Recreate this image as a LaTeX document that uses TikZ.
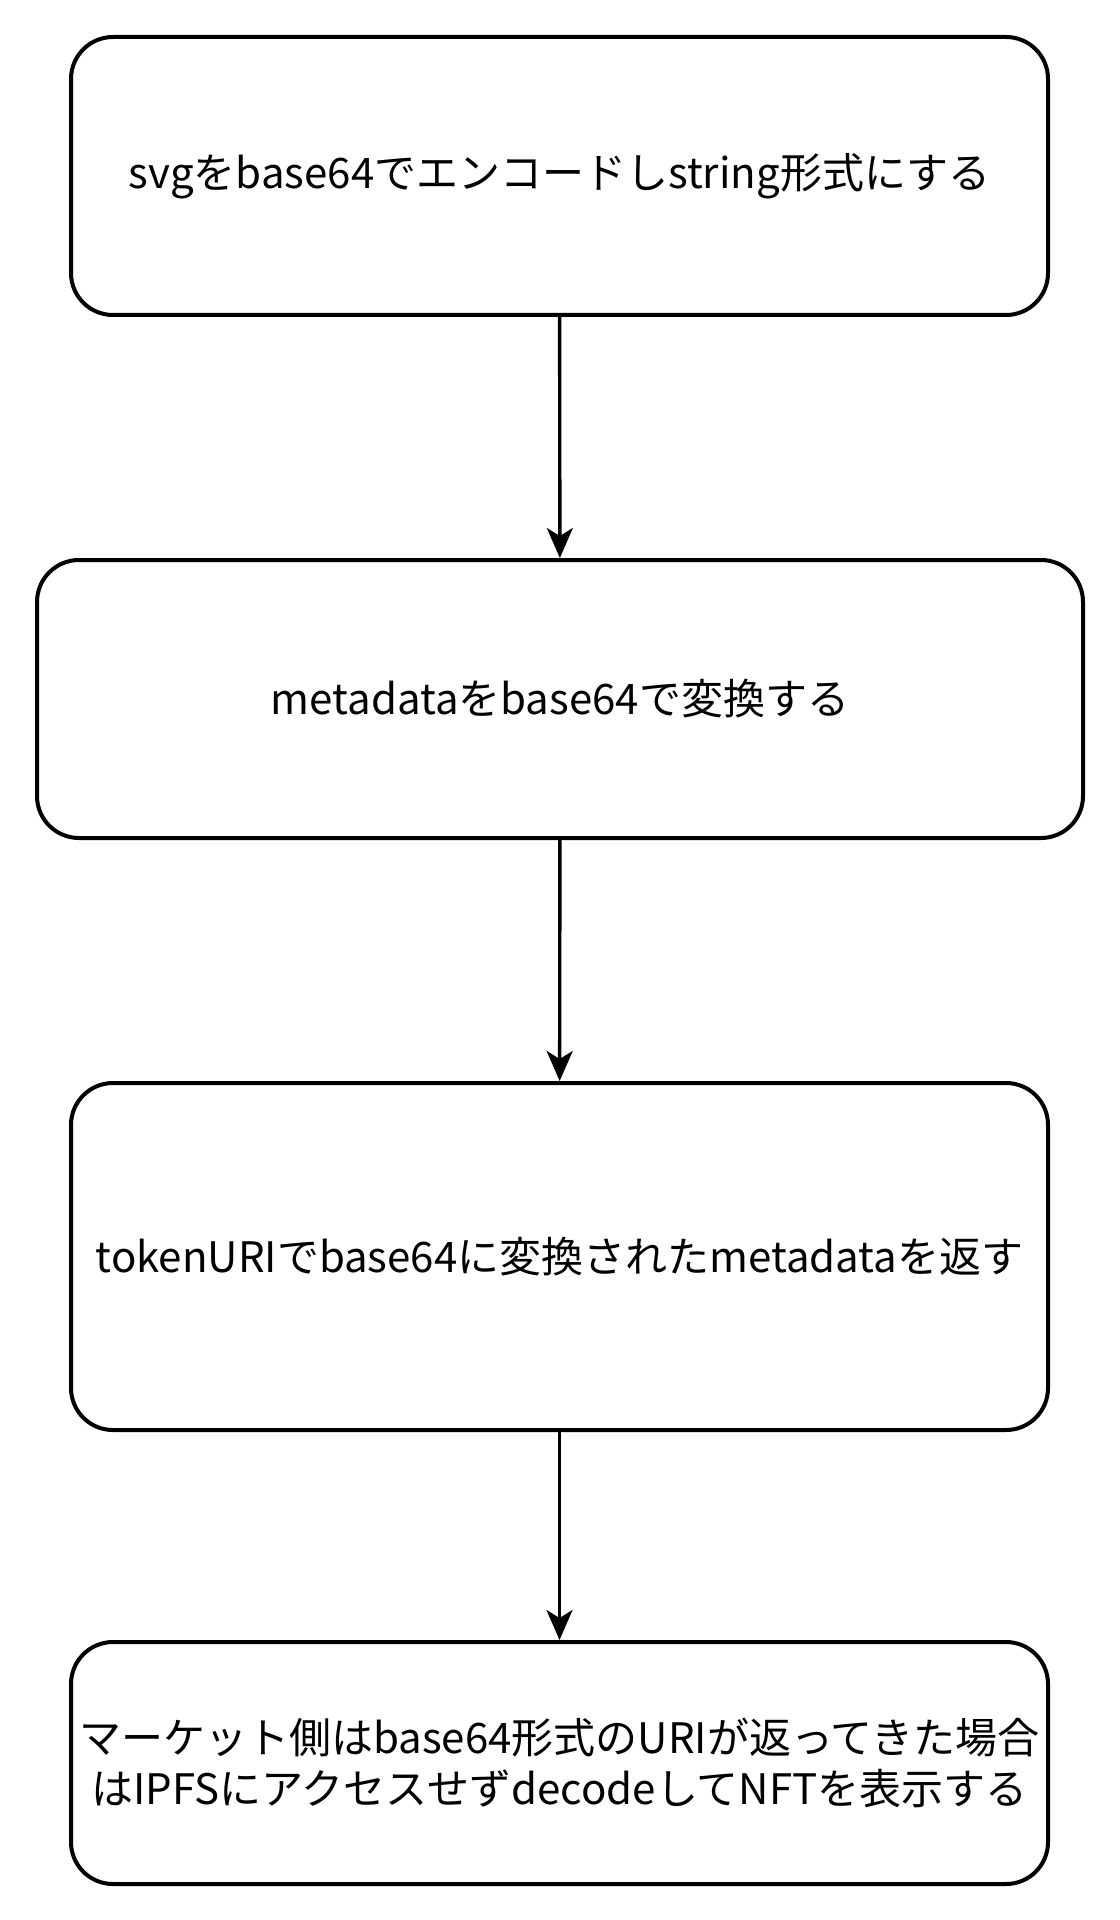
\documentclass[tikz,border=0pt]{standalone}
\usepackage{fontspec}
\setmainfont{Noto Sans CJK JP}
\usetikzlibrary{arrows.meta}

\begin{document}
\begin{tikzpicture}[x=1pt, y=1pt,
  box/.style={draw, line width=2pt, rounded corners=21pt, inner sep=0pt,
    align=center, font=\fontsize{21pt}{25.7pt}\selectfont},
  flow/.style={line width=1.7pt, -{Stealth[length=15pt, width=13pt, inset=4pt]}}]
\useasboundingbox (0,0) rectangle (559.5,-960);
\node[box, minimum width=488.5pt, minimum height=139pt] (svg) at (279.75,-88) {svgをbase64でエンコードしstring形式にする};
\node[box, minimum width=523pt, minimum height=139pt] (meta) at (280,-349.5) {metadataをbase64で変換する};
\node[box, minimum width=488.5pt, minimum height=173.5pt] (uri) at (279.75,-628.25) {tokenURIでbase64に変換されたmetadataを返す};
\node[box, minimum width=488.5pt, minimum height=121pt] (market) at (279.75,-881.5) {マーケット側はbase64形式のURIが返ってきた場合\\はIPFSにアクセスせずdecodeしてNFTを表示する};
\draw[flow] (svg) -- (meta);
\draw[flow] (meta) -- (uri);
\draw[flow] (uri) -- (market);
\end{tikzpicture}
\end{document}
